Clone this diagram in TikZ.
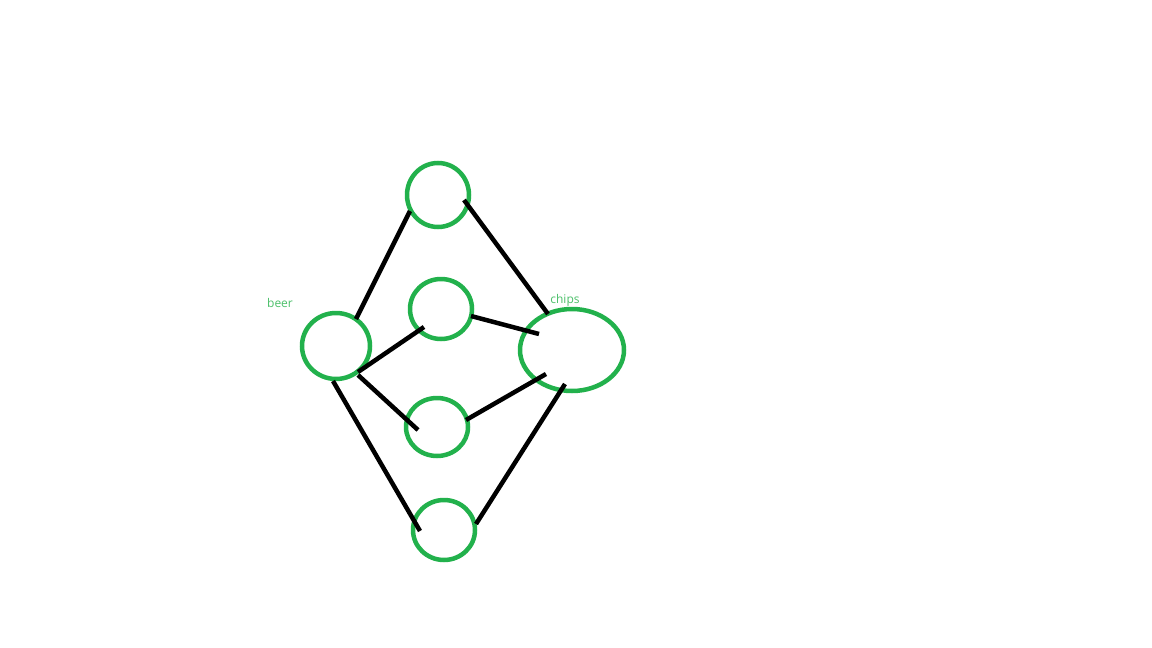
\documentclass[tikz,border=0pt]{standalone}
\usepackage{fontspec}
\setmainfont{Open Sans}
\definecolor{pgreen}{HTML}{22B14C}
\definecolor{tgreen}{HTML}{4CC06A}
\begin{document}
\begin{tikzpicture}[x=1pt,y=-1pt,
  ring/.style={draw=pgreen,line width=4.5pt},
  link/.style={draw=black,line width=4.5pt},
  lbl/.style={text=tgreen,font=\fontsize{12}{14}\selectfont,inner sep=0pt}]
\useasboundingbox[fill=white] (0,0) rectangle (1152,648);
\draw[ring] (438,195) ellipse [x radius=31,y radius=32];
\draw[ring] (441,309) ellipse [x radius=31,y radius=30];
\draw[ring] (437,427) ellipse [x radius=31,y radius=29];
\draw[ring] (444,530) ellipse [x radius=31,y radius=30];
\draw[ring] (336,346) ellipse [x radius=34,y radius=33];
\draw[ring] (572,350) ellipse [x radius=52,y radius=41];
\coordinate (a1) at (356,319); \coordinate (b1) at (410,211);
\coordinate (a2) at (464,200); \coordinate (b2) at (548,314);
\coordinate (a3) at (471,316); \coordinate (b3) at (539,334);
\coordinate (a4) at (358,372); \coordinate (b4) at (424,327);
\coordinate (a5) at (358,375); \coordinate (b5) at (418,430);
\coordinate (a6) at (466,420); \coordinate (b6) at (546,374);
\coordinate (a7) at (333,381); \coordinate (b7) at (420,531);
\coordinate (a8) at (476,524); \coordinate (b8) at (565,384);
\foreach \i in {1,...,8} \draw[link] (a\i) -- (b\i);
\node[lbl] (beer) at (280,303) {beer};
\node[lbl] (chips) at (565,300) {chips};
\end{tikzpicture}
\end{document}
